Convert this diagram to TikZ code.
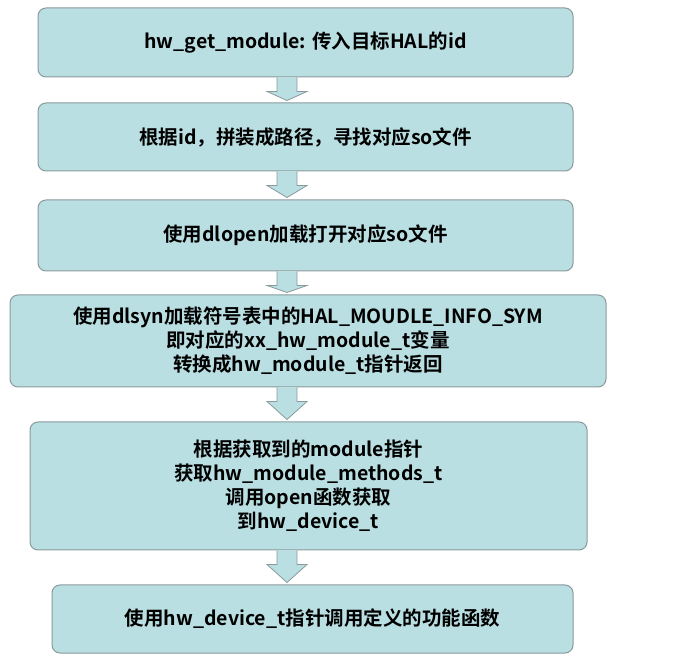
\documentclass[tikz,border=0pt]{standalone}
\usepackage{fontspec}
\setmainfont{Noto Sans CJK SC}[BoldFont={Noto Sans CJK SC Bold}]
\usetikzlibrary{calc}
\definecolor{boxfill}{HTML}{B9DFE2}
\definecolor{boxline}{HTML}{8A9A9C}
\tikzset{
 stepbox/.style={draw=boxline,line width=1pt,fill=boxfill,rounded corners=8pt,align=center,font=\fontsize{19.5}{24}\selectfont\bfseries},
 blockarrow/.style={draw=boxline,line width=0.8pt,fill=boxfill}
}
\newcommand{\barrow}[2]{%
 \draw[blockarrow] ($(#1.south -| ax)+(-10,0)$) -- ++(0,14) -- ++(-10,0) -- ($(#2.north -| ax)+(0,-2)$) -- ($(#1.south -| ax)+(20,14)$) -- ++(-10,0) -- ($(#1.south -| ax)+(10,0)$);}
\begin{document}
\begin{tikzpicture}[x=1pt,y=-1pt]
\useasboundingbox (0,0) rectangle (681,668);
\coordinate (ax) at (287,0);
\node[stepbox,minimum width=535,minimum height=69] (b1) at (305.5,42.5) {hw\_get\_module: 传入目标HAL的id};
\node[stepbox,minimum width=535,minimum height=68] (b2) at (305.5,137) {根据id，拼装成路径，寻找对应so文件};
\node[stepbox,minimum width=535,minimum height=71] (b3) at (305.5,235.5) {使用dlopen加载打开对应so文件};
\node[stepbox,minimum width=596,minimum height=92,inner ysep=2pt] (b4) at (308,341) {使用dlsyn加载符号表中的HAL\_MOUDLE\_INFO\_SYM\\即对应的xx\_hw\_module\_t变量\\转换成hw\_module\_t指针返回};
\node[stepbox,minimum width=557,minimum height=128] (b5) at (308.5,486) {根据获取到的module指针\\获取hw\_module\_methods\_t\\调用open函数获取\\到hw\_device\_t};
\node[stepbox,minimum width=521,minimum height=68] (b6) at (312.5,619) {使用hw\_device\_t指针调用定义的功能函数};
\barrow{b1}{b2}
\barrow{b2}{b3}
\barrow{b3}{b4}
\barrow{b4}{b5}
\barrow{b5}{b6}
\end{tikzpicture}
\end{document}
